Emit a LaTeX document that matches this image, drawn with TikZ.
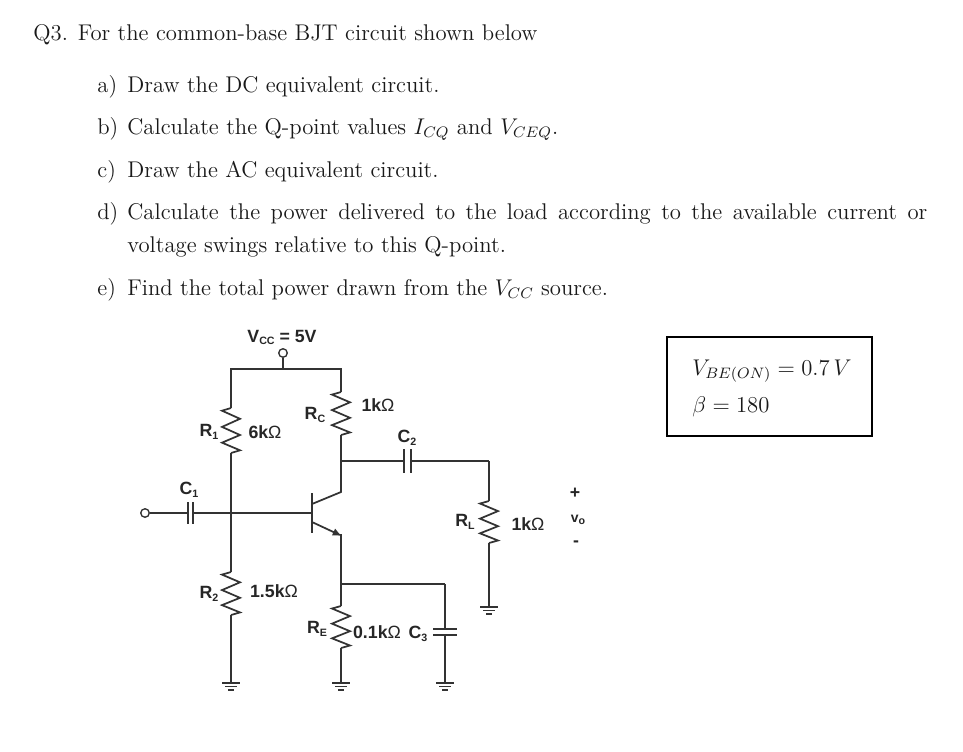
\documentclass[tikz,border=0pt]{standalone}
\usepackage{fontspec}
\newfontfamily\labfont{Liberation Sans}
\usetikzlibrary{calc,arrows.meta}
\newcommand\zigres[2]{\draw[wire] (#1) -- ($(#1)!.06!(#2)+(-9,0)$) -- ($(#1)!.24!(#2)+(9,0)$) -- ($(#1)!.42!(#2)+(-9,0)$) -- ($(#1)!.60!(#2)+(9,0)$) -- ($(#1)!.77!(#2)+(-9,0)$) -- ($(#1)!.94!(#2)+(9,0)$) -- (#2);}
\newcommand\sbs[1]{\raisebox{-0.28ex}{\fontsize{8}{9}\selectfont #1}}
\newcommand\symbolOm{{\mdseries Ω}}
\tikzset{
  wire/.style={line width=1.3pt,draw=black!80,line join=miter},
  thinwire/.style={line width=1.05pt,draw=black!80},
  term/.style={circle,draw=black!80,line width=1pt,fill=white,minimum size=6.4pt,inner sep=0pt},
  lab/.style={font=\labfont\bfseries\fontsize{13.3}{15}\selectfont,text=black!85,inner sep=0pt},
  txt/.style={font=\fontsize{12}{14}\selectfont,scale=1.42,anchor=base west,inner sep=0pt,text=black!90},
  groundsym/.pic={
    \draw[wire] (-9,0) -- (9,0);
    \draw[wire] (-6,3.5) -- (6,3.5);
    \draw[wire] (-3,7) -- (3,7);
  }
}
\begin{document}
\begin{tikzpicture}[x=0.75pt,y=-0.75pt]
\useasboundingbox[fill=white] (0,0) rectangle (963,751);
% ---- text
\node[txt] (q3) at (33,40) {Q3. For the common-base BJT circuit shown below};
\node[txt] (la) at (97,92) {a)};
\node[txt] (ta) at (127,92) {Draw the DC equivalent circuit.};
\node[txt] (lb) at (97,134) {b)};
\node[txt] (tb) at (127,134) {Calculate the Q-point values $I_{CQ}$ and $V_{CEQ}$.};
\node[txt] (lc) at (97,177) {c)};
\node[txt] (tc) at (127,177) {Draw the AC equivalent circuit.};
\node[txt] (ld) at (97,219) {d)};
\node[txt] (td) at (127,219) {\makebox[422.5pt][s]{Calculate the power delivered to the load according to the available current or}};
\node[txt] (td2) at (127,252) {voltage swings relative to this Q-point.};
\node[txt] (le) at (97,295) {e)};
\node[txt] (te) at (127,295) {Find the total power drawn from the $V_{CC}$ source.};
% ---- parameter box
\node[draw=black,line width=1.5pt,minimum width=153.75pt,minimum height=73.9pt,inner sep=0pt] (box) at (769.2,386.5) {};
\node[txt] (vbe) at (692,375) {$V_{BE(ON)}=0.7\,V$};
\node[txt] (beta) at (692,412) {$\beta=180$};
% ---- circuit points
\node[term] (vcc) at (283,353) {};
\coordinate (vccj) at (283,369);
\coordinate (tl) at (231,369);
\coordinate (tr) at (341,369);
\coordinate (r1t) at (231,408);
\coordinate (r1b) at (231,453);
\coordinate (bj) at (231,513);
\coordinate (r2t) at (231,572);
\coordinate (r2b) at (231,615);
\coordinate (g1) at (231,683);
\node[term] (in) at (145,513) {};
\coordinate (c1a) at (188,513);
\coordinate (c1b) at (193,513);
\coordinate (bb) at (312,513);
\coordinate (bbt) at (312,493);
\coordinate (bbb) at (312,533);
\coordinate (cs) at (312,504);
\coordinate (ce) at (341,492);
\coordinate (es) at (312,522);
\coordinate (ee) at (342,536);
\coordinate (ev) at (341,534);
\coordinate (rct) at (341,392);
\coordinate (rcb) at (341,435);
\coordinate (cj) at (341,461);
\coordinate (c2a) at (404,461);
\coordinate (c2b) at (411,461);
\coordinate (co) at (489,461);
\coordinate (rlt) at (489,501);
\coordinate (rlb) at (489,543);
\coordinate (g2) at (489,607);
\coordinate (ej) at (341,584);
\coordinate (ret) at (341,606);
\coordinate (reb) at (341,648);
\coordinate (g3) at (341,683);
\coordinate (c3c) at (445,584);
\coordinate (c3a) at (445,629);
\coordinate (c3b) at (445,635);
\coordinate (g4) at (445,683);
% ---- wires
\draw[wire] (vcc) -- (vccj);
\draw[wire] (r1t) -- (tl) -- (tr) -- (rct);
\zigres{r1t}{r1b}
\draw[wire] (r1b) -- (bj) -- (r2t);
\zigres{r2t}{r2b}
\draw[wire] (r2b) -- (g1);
\pic at (g1) {groundsym};
\draw[wire] (in) -- (c1a);
\draw[wire] (c1b) -- (bb);
\draw[wire] ($(c1a)+(0,-11)$) -- ($(c1a)+(0,11)$);
\draw[wire] ($(c1b)+(0,-11)$) -- ($(c1b)+(0,11)$);
\draw[wire,line width=1.5pt] (bbt) -- (bbb);
\draw[wire] (cs) -- (ce) -- (rcb);
\zigres{rct}{rcb}
\draw[wire,-{Latex[length=7pt,width=6pt]}] (es) -- (ee);
\draw[wire] (ev) -- (ret);
\zigres{ret}{reb}
\draw[wire] (reb) -- (g3);
\pic at (g3) {groundsym};
\draw[thinwire] (cj) -- (c2a);
\draw[thinwire] (c2b) -- (co);
\draw[wire] ($(c2a)+(0,-12)$) -- ($(c2a)+(0,12)$);
\draw[wire] ($(c2b)+(0,-12)$) -- ($(c2b)+(0,12)$);
\draw[wire] (co) -- (rlt);
\zigres{rlt}{rlb}
\draw[wire] (rlb) -- (g2);
\pic at (g2) {groundsym};
\draw[thinwire] (ej) -- (c3c);
\draw[wire] (c3c) -- (c3a);
\draw[wire] ($(c3a)+(-12,0)$) -- ($(c3a)+(12,0)$);
\draw[wire] ($(c3b)+(-12,0)$) -- ($(c3b)+(12,0)$);
\draw[wire] (c3b) -- (g4);
\pic at (g4) {groundsym};
% ---- labels
\node[lab] (lvcc) at (282,337.5) {V\sbs{CC} = 5V};
\node[lab] (lr1) at (209,432) {R\sbs{1}};
\node[lab] (v1) at (265,432) {6k\symbolOm};
\node[lab] (lrc) at (315,415) {R\sbs{C}};
\node[lab] (vc) at (378,405) {1k\symbolOm};
\node[lab] (lc1) at (189,490) {C\sbs{1}};
\node[lab] (lc2) at (407,438) {C\sbs{2}};
\node[lab] (lrl) at (465,522) {R\sbs{L}};
\node[lab] (vl) at (528,524) {1k\symbolOm};
\node[lab] (lr2) at (209,594) {R\sbs{2}};
\node[lab] (v2) at (274,591) {1.5k\symbolOm};
\node[lab] (lre) at (317,629) {R\sbs{E}};
\node[lab] (ve) at (377,632) {0.1k\symbolOm};
\node[lab] (lc3) at (418,634) {C\sbs{3}};
\node[lab] (plus) at (575,493) {+};
\node[lab,font=\labfont\bfseries\fontsize{10.5}{12}\selectfont] (vo) at (578,520) {v\sbs{o}};
\node[lab] (minus) at (576,544) {-};
\end{tikzpicture}
\end{document}
